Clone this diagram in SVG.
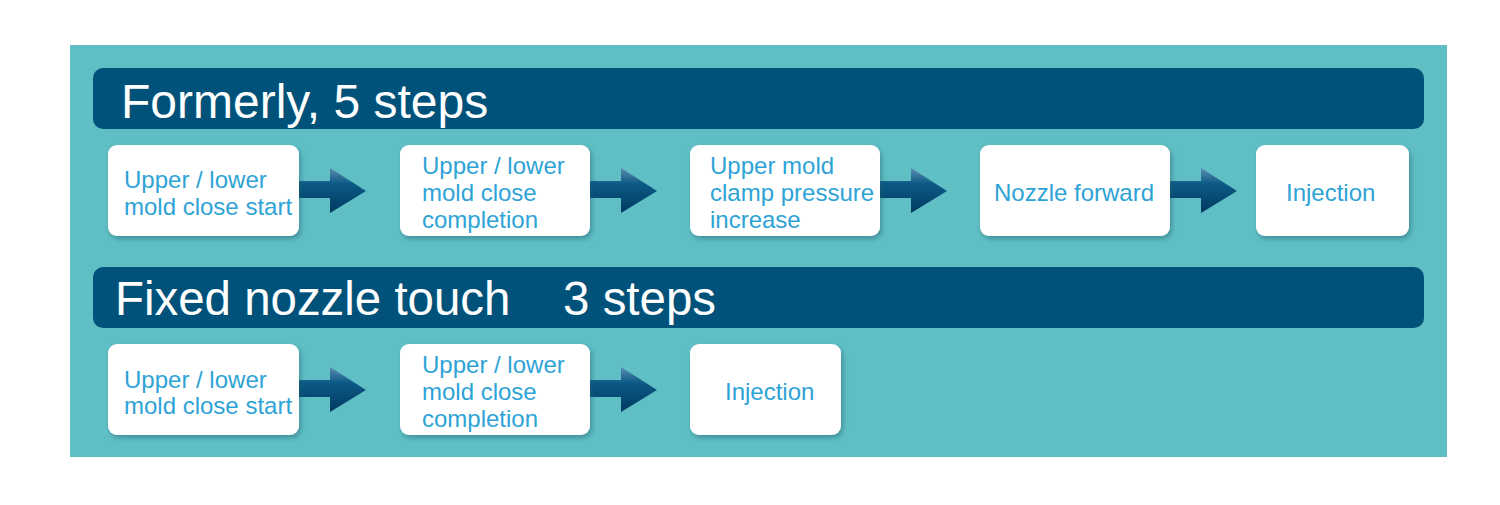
<svg xmlns="http://www.w3.org/2000/svg" width="1500" height="505" viewBox="0 0 1500 505">
<style>
.hdr{fill:#00527a}
.box{fill:#ffffff;filter:url(#sh)}
.t{font-family:"Liberation Sans",Arial,sans-serif;font-size:24px;fill:#2ea3d6}
.h{font-family:"Liberation Sans",Arial,sans-serif;font-size:48px;fill:#ffffff}
</style>
<defs>
<filter id="sh" x="-10%" y="-10%" width="130%" height="130%">
<feGaussianBlur in="SourceAlpha" stdDeviation="2.5"/>
<feOffset dx="2" dy="3" result="b"/>
<feFlood flood-color="#1e5a6a" flood-opacity="0.45"/>
<feComposite in2="b" operator="in"/>
<feMerge><feMergeNode/><feMergeNode in="SourceGraphic"/></feMerge>
</filter>
<linearGradient id="ag" x1="0" y1="0" x2="0" y2="1">
<stop offset="0" stop-color="#5f8db0"/>
<stop offset="0.35" stop-color="#0b5a86"/>
<stop offset="1" stop-color="#003a60"/>
</linearGradient>
<g id="arr">
<path d="M0,181 L31,181 L31,168 L67,191 L31,213 L31,198 L0,198 Z" fill="url(#ag)"/>
</g>
</defs>
<rect x="70" y="45" width="1377" height="412" fill="#5fbfc4"/>
<g id="header1"><rect class="hdr" x="93" y="68" width="1331" height="61" rx="10"/><text class="h" x="121" y="118">Formerly, 5 steps</text></g>
<g id="header2"><rect class="hdr" x="93" y="267" width="1331" height="61" rx="10"/><text class="h" x="115" y="315" textLength="601" lengthAdjust="spacingAndGlyphs" xml:space="preserve">Fixed nozzle touch    3 steps</text></g>
<g id="connectors">
<use href="#arr" x="299" y="0"/>
<use href="#arr" x="590" y="0"/>
<use href="#arr" x="880" y="0"/>
<use href="#arr" x="1170" y="0"/>
<use href="#arr" x="299" y="199"/>
<use href="#arr" x="590" y="199"/>
</g>
<g id="n1"><rect class="box" x="108" y="145" width="191" height="91" rx="9"/><text class="t" x="124" y="188">Upper / lower</text><text class="t" x="124" y="215">mold close start</text></g>
<g id="n2"><rect class="box" x="400" y="145" width="190" height="91" rx="9"/><text class="t" x="422" y="174">Upper / lower</text><text class="t" x="422" y="201">mold close</text><text class="t" x="422" y="228">completion</text></g>
<g id="n3"><rect class="box" x="690" y="145" width="190" height="91" rx="9"/><text class="t" x="710" y="174">Upper mold</text><text class="t" x="710" y="201">clamp pressure</text><text class="t" x="710" y="228">increase</text></g>
<g id="n4"><rect class="box" x="980" y="145" width="190" height="91" rx="9"/><text class="t" x="994" y="201">Nozzle forward</text></g>
<g id="n5"><rect class="box" x="1256" y="145" width="153" height="91" rx="9"/><text class="t" x="1286" y="201">Injection</text></g>
<g id="m1"><rect class="box" x="108" y="344" width="191" height="91" rx="9"/><text class="t" x="124" y="388">Upper / lower</text><text class="t" x="124" y="414">mold close start</text></g>
<g id="m2"><rect class="box" x="400" y="344" width="190" height="91" rx="9"/><text class="t" x="422" y="373">Upper / lower</text><text class="t" x="422" y="400">mold close</text><text class="t" x="422" y="427">completion</text></g>
<g id="m3"><rect class="box" x="690" y="344" width="151" height="91" rx="9"/><text class="t" x="725" y="400">Injection</text></g>
</svg>
